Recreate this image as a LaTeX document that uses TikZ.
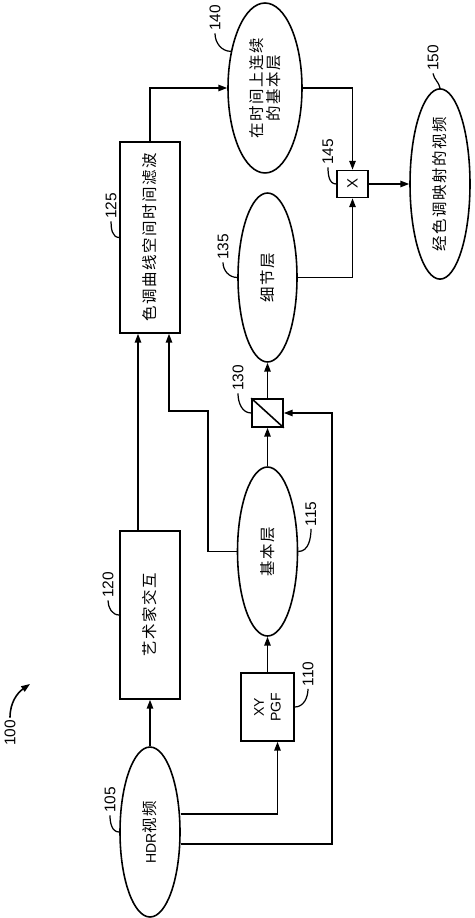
\documentclass[tikz,border=0pt]{standalone}
\usepackage{fontspec}
\setmainfont{Liberation Sans}
\newfontfamily\cjk{Noto Sans CJK SC}[LetterSpace=10]
\usetikzlibrary{shapes.geometric,arrows.meta}

\begin{document}
\begin{tikzpicture}[x=0.02cm, y=-0.02cm, line width=0.9pt,
    arr/.style={-{Triangle[length=5pt,width=3.6pt]}},
    lead/.style={line width=0.7pt},
    oval/.style={draw, ellipse, rotate=90, inner sep=0pt, align=center,
        minimum width=3.4cm, minimum height=1.2cm,
        font={\cjk\fontsize{8.8}{9.8}\selectfont}},
    blk/.style={draw, rectangle, rotate=90, inner sep=0pt, align=center,
        minimum height=1.2cm, font={\cjk\fontsize{8.8}{9.8}\selectfont}},
    tag/.style={rotate=90, inner sep=1pt, font=\fontsize{8.8}{10}\selectfont}]
    \useasboundingbox (0,0) rectangle (474,918);

    % blocks of the pipeline
    \node[oval] (hdr) at (150,832) {{\rmfamily\fontsize{8}{9}\selectfont HDR}视频};
    \node[blk, minimum width=3.36cm] (art) at (150,615) {艺术家交互};
    \node[blk, minimum width=3.82cm] (tone) at (150,237.5) {色调曲线空间时间滤波};
    \node[blk, minimum width=1.36cm, minimum height=1.06cm,
        font=\fontsize{8}{9.5}\selectfont] (pgf) at (267.5,707) {XY\\PGF};
    \node[oval, minimum width=3.38cm] (base) at (267.5,551.5) {基本层};
    \node[blk, minimum width=0.56cm, minimum height=0.62cm] (div) at (267.5,413) {};
    \draw (div.north east) -- (div.south west);
    \node[oval, minimum width=3.38cm, minimum height=1.18cm] (detail) at (267.5,277.5) {细节层};
    \node[oval, minimum height=1.48cm] (cont) at (265,88) {在时间上连续\\的基本层};
    \node[blk, minimum width=0.54cm, minimum height=0.62cm,
        font=\fontsize{8.5}{10}\selectfont] (mult) at (352.5,184) {X};
    \node[oval, minimum width=3.44cm] (out) at (440,184) {经色调映射的视频};

    % connectors
    \draw[arr] (hdr) -- (art);
    \draw[arr] ([xshift=-0.24cm]art.east) -- ([xshift=-0.24cm]tone.west);
    \draw[arr] ([yshift=0.36cm]hdr.south) -| ([xshift=0.2cm]pgf.west);
    \draw[arr] (pgf) -- (base);
    \draw[arr] (base.north) -| (208,411) -| ([xshift=0.38cm]tone.west);
    \draw[arr] (base) -- (div);
    \draw[arr] ([yshift=-0.24cm]hdr.south) -| ([xshift=0.96cm]div.south) -- (div.south);
    \draw[arr] (div) -- (detail);
    \draw[arr] (tone.east) |- (cont.north);
    \draw[arr] (cont.south) -| (mult.east);
    \draw[arr] (detail.south) -| (mult.west);
    \draw[arr] (mult.south) -- (out.north);

    % reference numerals
    \node[tag] (n100) at (10,733) {100};
    \coordinate (fig) at (30,684);
    \draw[arr] (n100.east) to[out=90,in=-145] (fig);
    \node[tag] (n105) at (110,800) {105};
    \node[tag] (n120) at (108,585) {120};
    \node[tag] (n125) at (111,206) {125};
    \node[tag] (n110) at (308,674) {110};
    \node[tag] (n115) at (311,514) {115};
    \node[tag] (n130) at (238,378) {130};
    \node[tag] (n135) at (223,247) {135};
    \node[tag] (n140) at (215,18) {140};
    \node[tag] (n145) at (328,152) {145};
    \node[tag] (n150) at (433,58) {150};
    \draw[lead] (hdr.north) to[out=180,in=-90] (n105.west);
    \draw[lead] (art.north) to[out=180,in=-90] (n120.west);
    \draw[lead] (tone.north) to[out=180,in=-90] (n125.west);
    \draw[lead] (pgf.south) to[out=0,in=-90] (n110.west);
    \draw[lead] (base.south) to[out=0,in=-90] (n115.west);
    \draw[lead] (div.north) to[out=180,in=-90] (n130.west);
    \draw[lead] (detail.north) to[out=180,in=-90] (n135.west);
    \draw[lead] (cont.43) to[out=180,in=-90] (n140.west);
    \draw[lead] (mult.north) to[out=180,in=-90] (n145.west);
    \draw[lead] (out.east) to[out=100,in=-80] (n150.west);
\end{tikzpicture}
\end{document}
